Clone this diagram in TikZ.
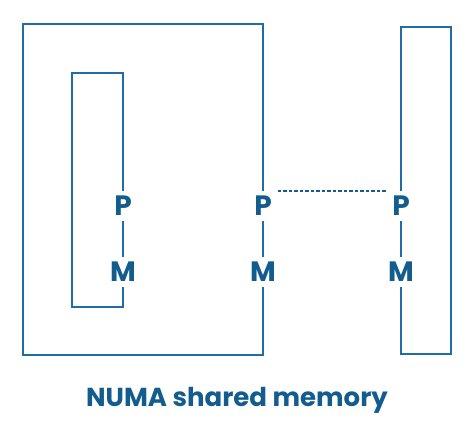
\documentclass[tikz,border=0pt]{standalone}
\usepackage{fontspec}
\setmainfont{Poppins}
\usepackage{tikz}
\usepackage{xcolor}
\definecolor{numablue}{HTML}{1F6CA8}
\definecolor{numatext}{HTML}{135C8E}

\begin{document}
\begin{tikzpicture}[x=1pt,y=-1pt,
  unit/.style={font=\bfseries\fontsize{28}{28}\selectfont, text=numatext, inner xsep=4pt, inner ysep=5pt},
  wall/.style={draw=numablue, line width=2.8pt},
  link/.style={draw=numatext, line width=1.6pt, dash pattern=on 3.5pt off 2pt}]
  \useasboundingbox (0,0) rectangle (474,439);
  \node[unit] (p1) at (123,206) {P};
  \node[unit] (m1) at (123,272) {M};
  \node[unit] (p2) at (263,206) {P};
  \node[unit] (m2) at (263,272) {M};
  \node[unit] (p3) at (401,206) {P};
  \node[unit] (m3) at (401,272) {M};
  \draw[wall] (p1.north) -- (123,73) -- (72,73) -- (72,307) -- (123,307) -- (m1.south);
  \draw[wall] (p1.south) -- (m1.north);
  \draw[wall] (p2.north) -- (263,24) -- (23,24) -- (23,355) -- (263,355) -- (m2.south);
  \draw[wall] (p2.south) -- (m2.north);
  \draw[wall] (p3.north) -- (401,27) -- (451,27) -- (451,354) -- (401,354) -- (m3.south);
  \draw[wall] (p3.south) -- (m3.north);
  \draw[link] ([xshift=2pt]p2.north east) -- ([xshift=-1pt]p3.north west);
  \node[font=\bfseries\fontsize{26}{26}\selectfont, text=numatext] (title) at (237,400) {NUMA shared memory};
\end{tikzpicture}
\end{document}
